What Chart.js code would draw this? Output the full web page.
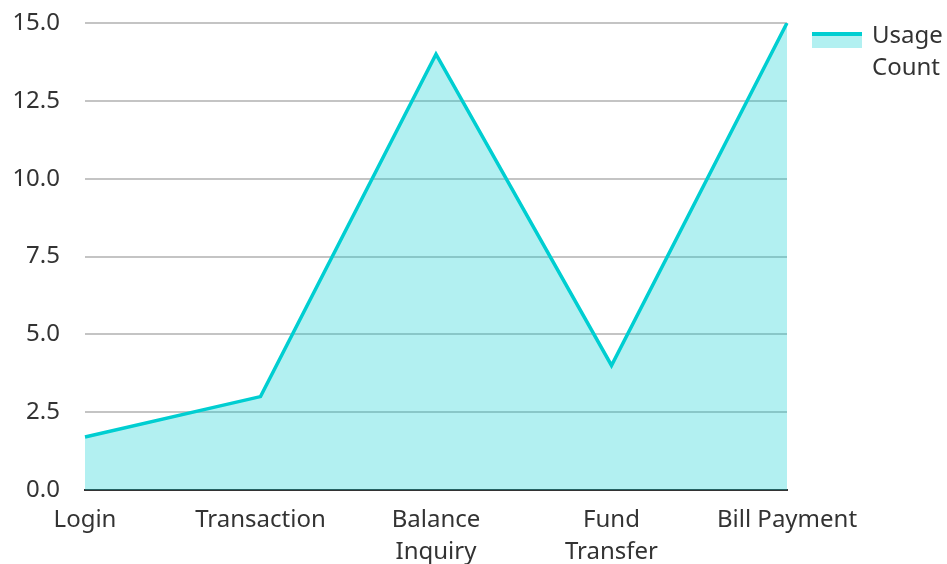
<!DOCTYPE html>
<html>
<head>
<meta charset="utf-8">
<script src="https://cdn.jsdelivr.net/npm/chart.js@4"></script>
<style>
  html, body { margin: 0; padding: 0; background: #fff; }
  #wrap { width: 947px; height: 564px; }
</style>
</head>
<body>
<div id="wrap"><canvas id="canvas"></canvas></div>
<script>
// Daten
const categories = ['Login', 'Transaction', ['Balance', 'Inquiry'], ['Fund', 'Transfer'], 'Bill Payment'];
const usageCount = [1.7, 3, 14, 4, 15];
const seriesName = ['Usage', 'Count'];

const lineColor = '#00CED1';
const fillColor = 'rgba(0, 206, 209, 0.3)';
const textColor = '#333333';

Chart.defaults.font.family = '"Noto Sans", "Open Sans", sans-serif';
Chart.defaults.font.size = 24;
Chart.defaults.color = textColor;

// eigene Legende rechts (Linie oben, Fläche darunter, Text zweizeilig)
const sideLegend = {
  id: 'sideLegend',
  afterDraw(chart) {
    const ctx = chart.ctx;
    const x = chart.chartArea.right + 25;
    const y = 32;
    ctx.save();
    ctx.fillStyle = fillColor;
    ctx.fillRect(x, y, 50, 16);
    ctx.fillStyle = lineColor;
    ctx.fillRect(x, y, 50, 4);
    ctx.fillStyle = textColor;
    ctx.font = '24px "Noto Sans", "Open Sans", sans-serif';
    ctx.textBaseline = 'middle';
    ctx.textAlign = 'left';
    seriesName.forEach((t, i) => ctx.fillText(t, x + 60, 36 + i * 32));
    ctx.restore();
  }
};

const chart = new Chart(document.querySelector('#canvas'), {
  type: 'line',
  data: {
    labels: categories,
    datasets: [{
      label: seriesName.join(' '),
      data: usageCount,
      borderColor: lineColor,
      backgroundColor: fillColor,
      borderWidth: 3.5,
      fill: 'origin',
      tension: 0,
      pointRadius: 0
    }]
  },
  options: {
    responsive: true,
    maintainAspectRatio: false,
    animation: false,
    layout: { padding: { top: 23, right: 160, bottom: 0, left: 0 } },
    plugins: {
      legend: { display: false },
      tooltip: { enabled: false }
    },
    scales: {
      x: {
        offset: false,
        grid: { display: false, drawTicks: false },
        border: { display: true, color: '#333333', width: 2 },
        ticks: {
          padding: 14,
          maxRotation: 0,
          autoSkip: false,
          font: { size: 24, lineHeight: 1.33 }
        },
        afterFit(scale) { scale.height = 74; }
      },
      y: {
        min: 0,
        max: 15,
        grid: { color: '#c4c4c4', lineWidth: 2, drawTicks: false },
        border: { display: false },
        ticks: {
          stepSize: 2.5,
          padding: 25,
          callback: v => v.toFixed(1)
        },
        afterFit(scale) {
          scale.width = 85;
          scale.paddingTop = 0;
          scale.paddingBottom = 0;
        }
      }
    }
  },
  plugins: [sideLegend]
});
</script>
</body>
</html>
